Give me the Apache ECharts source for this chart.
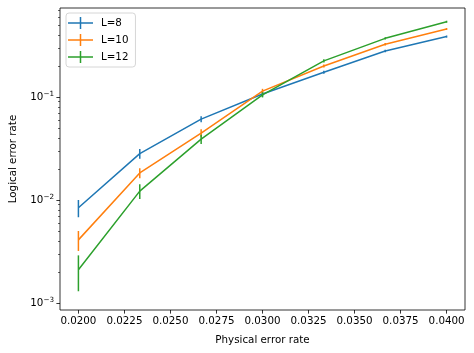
<!DOCTYPE html>
<html>
<head>
<meta charset="utf-8">
<script src="https://cdn.jsdelivr.net/npm/echarts@6/dist/echarts.min.js"></script>
<style>
  html, body { margin: 0; padding: 0; background: #fff; }
  #chart { width: 474px; height: 353px; }
</style>
</head>
<body>
<div id="chart"></div>
<script>
// physical error rates (x)
const physRates = [0.02, 0.023333, 0.026667, 0.03, 0.033333, 0.036667, 0.04];

// logical error rates per code size
const l8Vals  = [0.0084, 0.0282, 0.061, 0.107, 0.174, 0.28, 0.386];
const l10Vals = [0.0041, 0.0183, 0.0447, 0.114, 0.2, 0.325, 0.457];
const l12Vals = [0.0021, 0.0122, 0.039, 0.105, 0.224, 0.371, 0.538];

// error bar half-heights
const l8Errs  = [0.0016, 0.003, 0.004, 0.006, 0.006, 0.008, 0.009];
const l10Errs = [0.0009, 0.002, 0.004, 0.006, 0.007, 0.009, 0.01];
const l12Errs = [0.0008, 0.002, 0.004, 0.006, 0.008, 0.01, 0.012];

const seriesNames = ['L=8', 'L=10', 'L=12'];
const xTicks = [0.02, 0.0225, 0.025, 0.0275, 0.03, 0.0325, 0.035, 0.0375, 0.04];
const yMajorTicks = [0.001, 0.01, 0.1];
const yMinorTicks = [
  0.002, 0.003, 0.004, 0.005, 0.006, 0.007, 0.008, 0.009,
  0.02, 0.03, 0.04, 0.05, 0.06, 0.07, 0.08, 0.09,
  0.2, 0.3, 0.4, 0.5, 0.6, 0.7
];

const colors = ['#1f77b4', '#ff7f0e', '#2ca02c'];
const FONT = 'DejaVu Sans';
const FS = 10.3;

const allVals = [l8Vals, l10Vals, l12Vals];
const allErrs = [l8Errs, l10Errs, l12Errs];

const series = [];
allVals.forEach((vals, k) => {
  series.push({
    name: seriesNames[k],
    type: 'line',
    data: physRates.map((x, i) => [x, vals[i]]),
    showSymbol: false,
    symbol: 'none',
    lineStyle: { color: colors[k], width: 1.5 },
    itemStyle: { color: colors[k] },
    z: 2 + k * 2
  });
  // vertical error bars, no caps
  series.push({
    name: seriesNames[k] + ' err',
    type: 'custom',
    data: physRates.map((x, i) => [x, vals[i] - allErrs[k][i], vals[i] + allErrs[k][i]]),
    encode: { x: 0, y: [1, 2] },
    renderItem: (params, api) => {
      const x = api.value(0);
      const p1 = api.coord([x, api.value(1)]);
      const p2 = api.coord([x, api.value(2)]);
      return {
        type: 'line',
        shape: { x1: p1[0], y1: p1[1], x2: p2[0], y2: p2[1] },
        style: { stroke: colors[k], lineWidth: 1.5 }
      };
    },
    z: 3 + k * 2
  });
});

const supFmt = v => {
  const e = Math.round(Math.log10(v));
  return '{b|10}{s|\u2212' + (-e) + '}';
};

const chart = echarts.init(document.getElementById('chart'));
chart.setOption({
  animation: false,
  backgroundColor: '#fff',
  color: colors,
  textStyle: { fontFamily: FONT },
  grid: {
    left: 60, right: 9, top: 8, bottom: 43,
    show: true, borderColor: '#000', borderWidth: 0.8,
    backgroundColor: 'transparent'
  },
  legend: {
    data: seriesNames,
    orient: 'vertical',
    left: 66, top: 13,
    padding: [4, 7, 4, 2],
    itemWidth: 25, itemHeight: 12, itemGap: 5,
    icon: 'path://M0,5.25h25v1.5h-25z M11.75,0h1.5v12h-1.5z',
    backgroundColor: 'rgba(255,255,255,0.8)',
    borderColor: '#cccccc', borderWidth: 0.8, borderRadius: 3,
    textStyle: { fontFamily: FONT, fontSize: FS, color: '#000', padding: [0, 0, 0, 3] }
  },
  xAxis: {
    type: 'value',
    min: 0.019, max: 0.041,
    name: 'Physical error rate',
    nameLocation: 'middle',
    nameGap: 25,
    nameTextStyle: { fontFamily: FONT, fontSize: FS, color: '#000' },
    axisLine: { show: false },
    splitLine: { show: false },
    axisTick: { show: true, length: 3.6, customValues: xTicks, lineStyle: { color: '#000', width: 0.8 } },
    axisLabel: {
      customValues: xTicks,
      margin: 6,
      fontFamily: FONT, fontSize: FS, color: '#000',
      formatter: v => v.toFixed(4)
    }
  },
  yAxis: [
    {
      type: 'log',
      logBase: 10,
      min: 0.000855, max: 0.731,
      name: 'Logical error rate',
      nameLocation: 'middle',
      nameGap: 42,
      nameTextStyle: { fontFamily: FONT, fontSize: FS, color: '#000' },
      axisLine: { show: false },
      splitLine: { show: false },
      minorTick: { show: false },
      axisTick: { show: true, length: 3.6, customValues: yMajorTicks, lineStyle: { color: '#000', width: 0.8 } },
      axisLabel: {
        customValues: yMajorTicks,
        margin: 6,
        formatter: supFmt,
        rich: {
          b: { fontFamily: FONT, fontSize: FS, color: '#000' },
          s: { fontFamily: FONT, fontSize: 7.2, color: '#000', verticalAlign: 'top', padding: [0, 0, 6, 0] }
        }
      }
    },
    {
      // minor ticks only
      type: 'log',
      logBase: 10,
      min: 0.000855, max: 0.731,
      position: 'left',
      axisLine: { show: false },
      splitLine: { show: false },
      axisLabel: { show: false },
      axisTick: { show: true, length: 2, customValues: yMinorTicks, lineStyle: { color: '#000', width: 0.6 } }
    }
  ],
  series: series
});
</script>
</body>
</html>
